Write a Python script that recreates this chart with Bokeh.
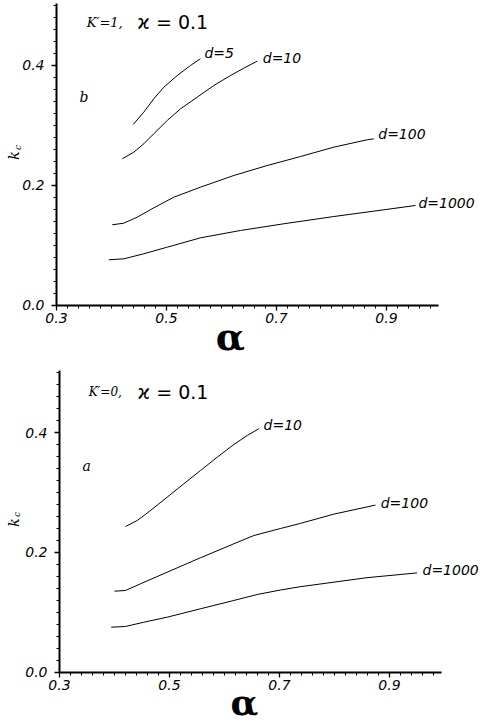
import numpy as np
from bokeh.plotting import figure
from bokeh.layouts import column
from bokeh.models import FixedTicker, Label, Range1d, PrintfTickFormatter
from bokeh.embed import file_html
from bokeh.resources import INLINE

# ---------------- data ----------------
x_ticks = [0.3, 0.5, 0.7, 0.9]
y_ticks = [0.0, 0.2, 0.4]

# panel b : K'=1
b_d5_a = [0.4395, 0.4587, 0.4769, 0.4951, 0.5195, 0.5436, 0.5618]
b_d5_k = [0.3017, 0.3222, 0.3445, 0.3638, 0.3833, 0.4000, 0.4112]
b_d10_a = [0.4195, 0.4405, 0.4587, 0.4769, 0.5013, 0.5255, 0.5558, 0.5860, 0.6164, 0.6405, 0.6649]
b_d10_k = [0.2445, 0.2555, 0.2695, 0.2862, 0.3083, 0.3278, 0.3472, 0.3667, 0.3833, 0.3955, 0.4072]
b_d100_a = [0.4013, 0.4224, 0.4467, 0.4769, 0.5133, 0.5618, 0.6224, 0.6831, 0.7436, 0.8042, 0.8649, 0.8769]
b_d100_k = [0.1345, 0.1372, 0.1472, 0.1628, 0.1805, 0.1972, 0.2167, 0.2333, 0.2483, 0.2639, 0.2762, 0.2778]
b_d1000_a = [0.3951, 0.4224, 0.4587, 0.5013, 0.5618, 0.6345, 0.7133, 0.8042, 0.8951, 0.9527]
b_d1000_k = [0.0762, 0.0778, 0.0862, 0.0972, 0.1128, 0.1250, 0.1362, 0.1483, 0.1595, 0.1667]

# panel a : K'=0
a_d10_a = [0.420, 0.4413, 0.4655, 0.4958, 0.526, 0.5564, 0.5867, 0.6169, 0.6413, 0.6624]
a_d10_k = [0.2433, 0.2533, 0.2700, 0.2922, 0.3145, 0.3367, 0.3588, 0.3800, 0.3950, 0.4062]
a_d100_a = [0.400, 0.420, 0.4473, 0.4958, 0.5564, 0.6169, 0.6533, 0.7018, 0.738, 0.799, 0.8745]
a_d100_k = [0.1355, 0.1367, 0.1478, 0.1672, 0.1912, 0.2145, 0.2283, 0.2400, 0.2485, 0.264, 0.279]
a_d1000_a = [0.394, 0.420, 0.4533, 0.4958, 0.5564, 0.6169, 0.6595, 0.7018, 0.738, 0.859, 0.950]
a_d1000_k = [0.0755, 0.0767, 0.0838, 0.0922, 0.1062, 0.1200, 0.1300, 0.1375, 0.1430, 0.158, 0.166]

b_labels = ["d=5", "d=10", "d=100", "d=1000"]
a_labels = ["d=10", "d=100", "d=1000"]

SANS = "DejaVu Sans"
SERIF = "DejaVu Serif"


def make_panel(xr, yr, ytop):
    p = figure(width=483, height=362, output_backend="svg", toolbar_location=None,
               x_range=Range1d(*xr), y_range=Range1d(*yr),
               min_border=0, min_border_top=0, min_border_bottom=0,
               min_border_left=0, min_border_right=0)
    p.outline_line_color = None
    p.grid.visible = False
    p.background_fill_color = "white"
    p.border_fill_color = "white"
    for ax in (p.xaxis[0], p.yaxis[0]):
        ax.axis_line_width = 2
        ax.axis_line_color = "black"
        ax.major_tick_line_color = "black"
        ax.minor_tick_line_color = "black"
        ax.major_tick_line_width = 1.3
        ax.minor_tick_line_width = 1
        ax.major_tick_in = 0
        ax.minor_tick_in = 0
        ax.major_tick_out = 5
        ax.minor_tick_out = 3
        ax.major_label_text_font = SANS
        ax.major_label_text_font_style = "italic"
        ax.major_label_text_font_size = "14px"
        ax.major_label_text_color = "black"
        ax.formatter = PrintfTickFormatter(format="%.1f")
    p.xaxis[0].ticker = FixedTicker(ticks=x_ticks,
                                    minor_ticks=list(np.round(np.arange(0.30, 1.0, 0.02), 3)))
    p.yaxis[0].ticker = FixedTicker(ticks=y_ticks,
                                    minor_ticks=list(np.round(np.arange(0.0, 0.51, 0.02), 3)))
    p.xaxis[0].fixed_location = 0.0
    p.yaxis[0].fixed_location = 0.3
    p.xaxis[0].bounds = (0.3, 0.995)
    p.yaxis[0].bounds = (0.0, ytop)
    p.xaxis[0].major_label_standoff = 3
    p.yaxis[0].major_label_standoff = 7
    return p


def lab(p, x, y, text, size, font=SANS, style="italic", align="left",
        baseline="middle", angle=0):
    p.add_layout(Label(x=x, y=y, text=text, text_font=font, text_font_style=style,
                       text_font_size=size, text_align=align, text_baseline=baseline,
                       angle=angle, text_color="black"))


# ---------------- top panel (b) ----------------
p1 = make_panel((0.19818, 1.07636), (-0.095, 0.50833), 0.503)
for a_, k_ in ((b_d5_a, b_d5_k), (b_d10_a, b_d10_k), (b_d100_a, b_d100_k), (b_d1000_a, b_d1000_k)):
    p1.line(a_, k_, line_color="black", line_width=1)
for t, x, y in zip(b_labels, [0.569, 0.675, 0.885, 0.958], [0.420, 0.412, 0.285, 0.170]):
    lab(p1, x, y, t, "14px")
lab(p1, 0.355, 0.4717, "K\u2032=1,", "13px", font=SERIF, baseline="alphabetic")
lab(p1, 0.447, 0.4717, "\u03f0 = 0.1", "19px", style="normal", baseline="alphabetic")
lab(p1, 0.342, 0.348, "b", "14px", font=SERIF)
lab(p1, 0.2236, 0.25, "k", "14px", font=SERIF, align="center", angle=np.pi / 2)
lab(p1, 0.2291, 0.2633, "c", "9px", font=SERIF, align="center", angle=np.pi / 2)
lab(p1, 0.616, -0.0517, "\u03b1", "38px", font=SERIF, style="bold", align="center",
    baseline="alphabetic")

# ---------------- bottom panel (a) ----------------
p2 = make_panel((0.19273, 1.07091), (-0.08667, 0.51667), 0.503)
for a_, k_ in ((a_d10_a, a_d10_k), (a_d100_a, a_d100_k), (a_d1000_a, a_d1000_k)):
    p2.line(a_, k_, line_color="black", line_width=1)
for t, x, y in zip(a_labels, [0.671, 0.884, 0.960], [0.412, 0.283, 0.170]):
    lab(p2, x, y, t, "14px")
lab(p2, 0.353, 0.468, "K\u2032=0,", "12px", font=SERIF, baseline="alphabetic")
lab(p2, 0.442, 0.468, "\u03f0 = 0.1", "19px", style="normal", baseline="alphabetic")
lab(p2, 0.342, 0.345, "a", "14px", font=SERIF)
lab(p2, 0.2164, 0.25, "k", "14px", font=SERIF, align="center", angle=np.pi / 2)
lab(p2, 0.2236, 0.2633, "c", "9px", font=SERIF, align="center", angle=np.pi / 2)
lab(p2, 0.636, -0.0500, "\u03b1", "36px", font=SERIF, style="bold", align="center",
    baseline="alphabetic")

layout = column(p1, p2, spacing=0)
open("out.html", "w").write(file_html(layout, INLINE))
